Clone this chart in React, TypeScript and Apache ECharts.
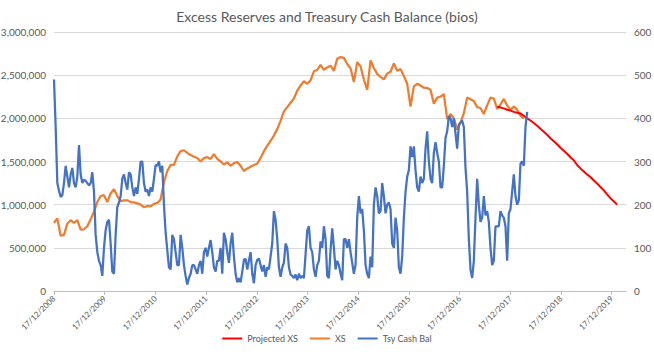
import React, { useEffect, useRef } from "react";
import * as echarts from "echarts";

// Treasury cash balance (bn), right axis, sampled every 12 days from 2008-12-17
const TSY_START = "2008-12-17";
const TSY_STEP_DAYS = 12;
const tsyCashBal = [
  490, 380, 250, 232, 218, 222, 250, 290, 265, 240,
  270, 285, 250, 240, 265, 338, 270, 250, 258, 255,
  250, 245, 250, 275, 230, 130, 90, 70, 60, 35,
  100, 141, 160, 165, 110, 45, 40, 130, 195, 205,
  220, 260, 270, 250, 235, 275, 270, 240, 220, 240,
  225, 260, 300, 300, 250, 230, 235, 220, 240, 230,
  260, 292, 290, 300, 275, 290, 200, 135, 95, 55,
  50, 130, 120, 90, 60, 60, 130, 100, 60, 35,
  15, 30, 40, 60, 60, 50, 40, 60, 70, 40,
  90, 100, 80, 100, 118, 90, 55, 45, 70, 70,
  100, 40, 135, 120, 90, 65, 110, 135, 80, 40,
  20, 30, 20, 45, 72, 75, 50, 70, 90, 40,
  18, 60, 72, 75, 60, 45, 60, 33, 55, 50,
  80, 110, 185, 165, 120, 55, 33, 55, 65, 110,
  100, 55, 38, 35, 30, 38, 25, 40, 30, 35,
  30, 85, 140, 150, 100, 90, 50, 33, 60, 70,
  115, 100, 150, 120, 35, 30, 95, 145, 100, 50,
  70, 60, 40, 25, 120, 120, 100, 120, 90, 65,
  40, 60, 170, 220, 180, 190, 140, 60, 40, 30,
  80, 55, 200, 240, 220, 180, 185, 250, 220, 180,
  200, 205, 190, 110, 100, 170, 140, 55, 40, 80,
  170, 230, 265, 280, 335, 310, 335, 280, 240, 230,
  265, 250, 260, 330, 370, 300, 260, 250, 320, 345,
  320, 300, 240, 240, 290, 355, 370, 405, 400, 380,
  400, 365, 330, 385, 390, 395, 380, 285, 230, 120,
  50, 30, 70, 170, 260, 200, 160, 170, 220, 175,
  185, 160, 100, 60, 70, 150, 150, 150, 185, 175,
  170, 150, 70, 180, 190, 230, 270, 220, 200, 210,
  295, 300, 290, 380, 415,
];

// Excess reserves (thousands of the left-axis unit), sampled every 24 days from 2008-12-17
const XS_START = "2008-12-17";
const XS_STEP_DAYS = 24;
const xsThousands = [
  790, 840, 640, 650, 780, 820, 790, 820, 710, 715,
  750, 830, 920, 1030, 1100, 1110, 1030, 1130, 1180, 1100,
  1040, 1050, 1050, 1030, 1027, 1015, 1000, 970, 985, 980,
  1010, 1020, 1060, 1260, 1390, 1460, 1460, 1560, 1620, 1630,
  1600, 1575, 1556, 1540, 1500, 1540, 1550, 1530, 1585, 1530,
  1500, 1465, 1490, 1450, 1480, 1495, 1450, 1390, 1420, 1440,
  1460, 1475, 1540, 1620, 1680, 1740, 1800, 1875, 1970, 2080,
  2130, 2180, 2230, 2320, 2380, 2430, 2400, 2440, 2545, 2560,
  2620, 2560, 2590, 2610, 2550, 2690, 2710, 2700, 2630, 2580,
  2420, 2650, 2600, 2450, 2330, 2670, 2580, 2515, 2480, 2450,
  2520, 2540, 2637, 2550, 2570, 2490, 2400, 2135, 2370, 2400,
  2380, 2355, 2350, 2330, 2170, 2240, 2250, 2280, 1990, 2050,
  2000, 1870, 1950, 2060, 2240, 2220, 2200, 2130, 2120, 2050,
  2150, 2240, 2230, 2110, 2160, 2225, 2150, 2100, 2135, 2100,
  2030, 2000,
];

// Projected excess reserves (thousands), every 24 days from 2017-09-13
const PROJ_START = "2017-09-13";
const PROJ_STEP_DAYS = 24;
const projectedThousands = [
  2135, 2125, 2115, 2100, 2090, 2075, 2065, 2055, 2030, 2000,
  1975, 1945, 1915, 1880, 1845, 1810, 1770, 1735, 1700, 1660,
  1625, 1590, 1550, 1515, 1460, 1420, 1385, 1350, 1320, 1280,
  1245, 1205, 1165, 1120, 1075, 1040, 1000,
];

const X_TICK_YEARS = [2008, 2009, 2010, 2011, 2012, 2013, 2014, 2015, 2016, 2017, 2018, 2019];
const X_MIN = "2008-12-17";
const X_MAX = "2020-03-29";

const DAY = 86400000;
const toTs = (s: string) => Date.parse(s + "T00:00:00Z");
const build = (start: string, step: number, vals: number[], scale: number) =>
  vals.map((v, i) => [toTs(start) + i * step * DAY, v * scale]);

const FONT = "Lato";
const GREY = "#595959";

export default function App() {
  const ref = useRef<HTMLDivElement>(null);
  useEffect(() => {
    document.body.style.margin = "0";
    const chart = echarts.init(ref.current!, null, { renderer: "svg" });
    const tickVals = X_TICK_YEARS.map((y) => Date.UTC(y, 11, 17));
    const pad = (n: number) => (n < 10 ? "0" + n : "" + n);
    chart.setOption({
      animation: false,
      backgroundColor: "#ffffff",
      title: {
        text: "Excess Reserves and Treasury Cash Balance (bios)",
        left: "center",
        top: 4,
        textStyle: { fontFamily: FONT, fontSize: 14, fontWeight: "normal", color: GREY },
      },
      grid: { left: 54, right: 28, top: 32, bottom: 65, containLabel: false, outerBoundsMode: "none" },
      legend: {
        bottom: 8,
        left: "center",
        icon: "rect",
        itemWidth: 20,
        itemHeight: 2,
        itemGap: 12,
        textStyle: { fontFamily: FONT, fontSize: 9, color: GREY },
        data: ["Projected XS", "XS", "Tsy Cash Bal"],
      },
      xAxis: {
        type: "value",
        min: toTs(X_MIN),
        max: toTs(X_MAX),
        axisLine: { show: true, lineStyle: { color: "#BFBFBF" } },
        axisTick: { show: true, customValues: tickVals, length: 4, lineStyle: { color: "#BFBFBF" } },
        axisLabel: {
          customValues: tickVals,
          rotate: 45,
          fontFamily: FONT,
          fontSize: 8,
          color: GREY,
          margin: 6,
          formatter: (v: number) => {
            const d = new Date(v);
            return pad(d.getUTCDate()) + "/" + pad(d.getUTCMonth() + 1) + "/" + d.getUTCFullYear();
          },
        },
        splitLine: { show: false },
      },
      yAxis: [
        {
          type: "value",
          min: 0,
          max: 3000000,
          interval: 500000,
          axisLine: { show: false },
          axisTick: { show: false },
          axisLabel: { fontFamily: FONT, fontSize: 10, color: GREY, margin: 8 },
          splitLine: { lineStyle: { color: "#D9D9D9", width: 1 } },
        },
        {
          type: "value",
          min: 0,
          max: 600,
          interval: 100,
          position: "right",
          axisLine: { show: false },
          axisTick: { show: false },
          axisLabel: { fontFamily: FONT, fontSize: 10, color: GREY, margin: 8 },
          splitLine: { show: false },
        },
      ],
      series: [
        {
          name: "XS",
          type: "line",
          yAxisIndex: 0,
          showSymbol: false,
          symbol: "none",
          z: 2,
          itemStyle: { color: "#ED7D31" },
          lineStyle: { color: "#ED7D31", width: 2.25 },
          data: build(XS_START, XS_STEP_DAYS, xsThousands, 1000),
        },
        {
          name: "Projected XS",
          type: "line",
          yAxisIndex: 0,
          showSymbol: false,
          symbol: "none",
          z: 3,
          itemStyle: { color: "#FF0000" },
          lineStyle: { color: "#FF0000", width: 2 },
          data: build(PROJ_START, PROJ_STEP_DAYS, projectedThousands, 1000),
        },
        {
          name: "Tsy Cash Bal",
          type: "line",
          yAxisIndex: 1,
          showSymbol: false,
          symbol: "none",
          z: 4,
          itemStyle: { color: "#4472C4" },
          lineStyle: { color: "#4472C4", width: 2.25 },
          data: build(TSY_START, TSY_STEP_DAYS, tsyCashBal, 1),
        },
      ],
    });
    return () => chart.dispose();
  }, []);
  return <div ref={ref} style={{ width: 654, height: 356 }} />;
}
